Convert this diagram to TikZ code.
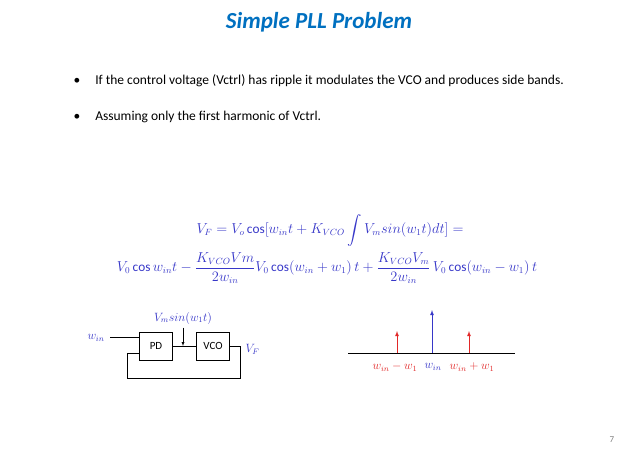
\documentclass[tikz,border=0pt]{standalone}
\usepackage{amsmath}
\usepackage{fontspec}
\setmainfont{Carlito}
\definecolor{ttl}{RGB}{0,112,192}
\definecolor{mb}{RGB}{55,55,200}
\definecolor{rd}{RGB}{225,40,40}
\begin{document}
\begin{tikzpicture}[x=1pt,y=-1pt,
 blk/.style={draw,minimum width=33pt,minimum height=28pt,inner sep=0pt,font=\fontsize{11}{13}\selectfont},
 lab/.style={text=mb,font=\fontsize{12}{14}\selectfont}]
\useasboundingbox (0,0) rectangle (638,451);
\node[text=ttl,font=\fontsize{23}{26}\selectfont\bfseries\itshape] (title) at (319,22) {Simple PLL Problem};
\node[anchor=west,font=\fontsize{13.5}{16}\selectfont] (b1) at (70,81) {\textbullet\hspace{15pt}If the control voltage (Vctrl) has ripple it modulates the VCO and produces side bands.};
\node[anchor=west,font=\fontsize{13.5}{16}\selectfont] (b2) at (70,117) {\textbullet\hspace{15pt}Assuming only the first harmonic of Vctrl.};
\node[text=mb,font=\fontsize{13.3}{16}\selectfont] (eq1) at (330,230) {$V_F=V_o\cos[w_{in}t+K_{VCO}\displaystyle\int V_m sin(w_1t)dt]=$};
\node[text=mb,font=\fontsize{13.3}{16}\selectfont] (eq2) at (327,268) {$V_0\cos w_{in}t-\dfrac{K_{VCO}Vm}{2w_{in}}V_0\cos(w_{in}+w_1)\,t+\dfrac{K_{VCO}V_m}{2w_{in}}\,V_0\cos(w_{in}-w_1)\,t$};
% block diagram
\node[blk] (pd) at (156,346) {PD};
\node[blk] (vco) at (213,346) {VCO};
\node[lab,anchor=east] (win) at (108,338) {$w_{in}$};
\coordinate (inl) at (110,337);
\draw (inl) -- (inl -| pd.west);
\draw[thick] (pd.east) -- (vco.west);
\node[lab] (vm) at (183,318) {$V_m sin(w_1t)$};
\coordinate (mid) at (183,346);
\draw[-latex] (vm.south) -- (mid);
\node[lab,anchor=west] (vf) at (242,349) {$V_F$};
\draw (vco.east) -- (240,346) -- (240,378) -- (127,378) -- (127,353) -- (pd.west |- 0,353);
% spectrum
\coordinate (s0) at (348,353);
\coordinate (s1) at (515,353);
\draw[thick] (s0) -- (s1);
\coordinate (c) at (432,353);
\coordinate (l) at (397,353);
\coordinate (r) at (469,353);
\draw[mb,thick,-latex] (c) -- (432,310);
\draw[rd,thick,-latex] (l) -- (397,331);
\draw[rd,thick,-latex] (r) -- (469,331);
\node[text=rd,font=\fontsize{12}{14}\selectfont] (ll) at (395,367) {$w_{in}-w_1$};
\node[text=mb,font=\fontsize{12}{14}\selectfont] (cl) at (433,367) {$w_{in}$};
\node[text=rd,font=\fontsize{12}{14}\selectfont] (rl) at (472,367) {$w_{in}+w_1$};
\node[text=gray,font=\fontsize{9}{10}\selectfont] (pg) at (612,440) {7};
\end{tikzpicture}
\end{document}
